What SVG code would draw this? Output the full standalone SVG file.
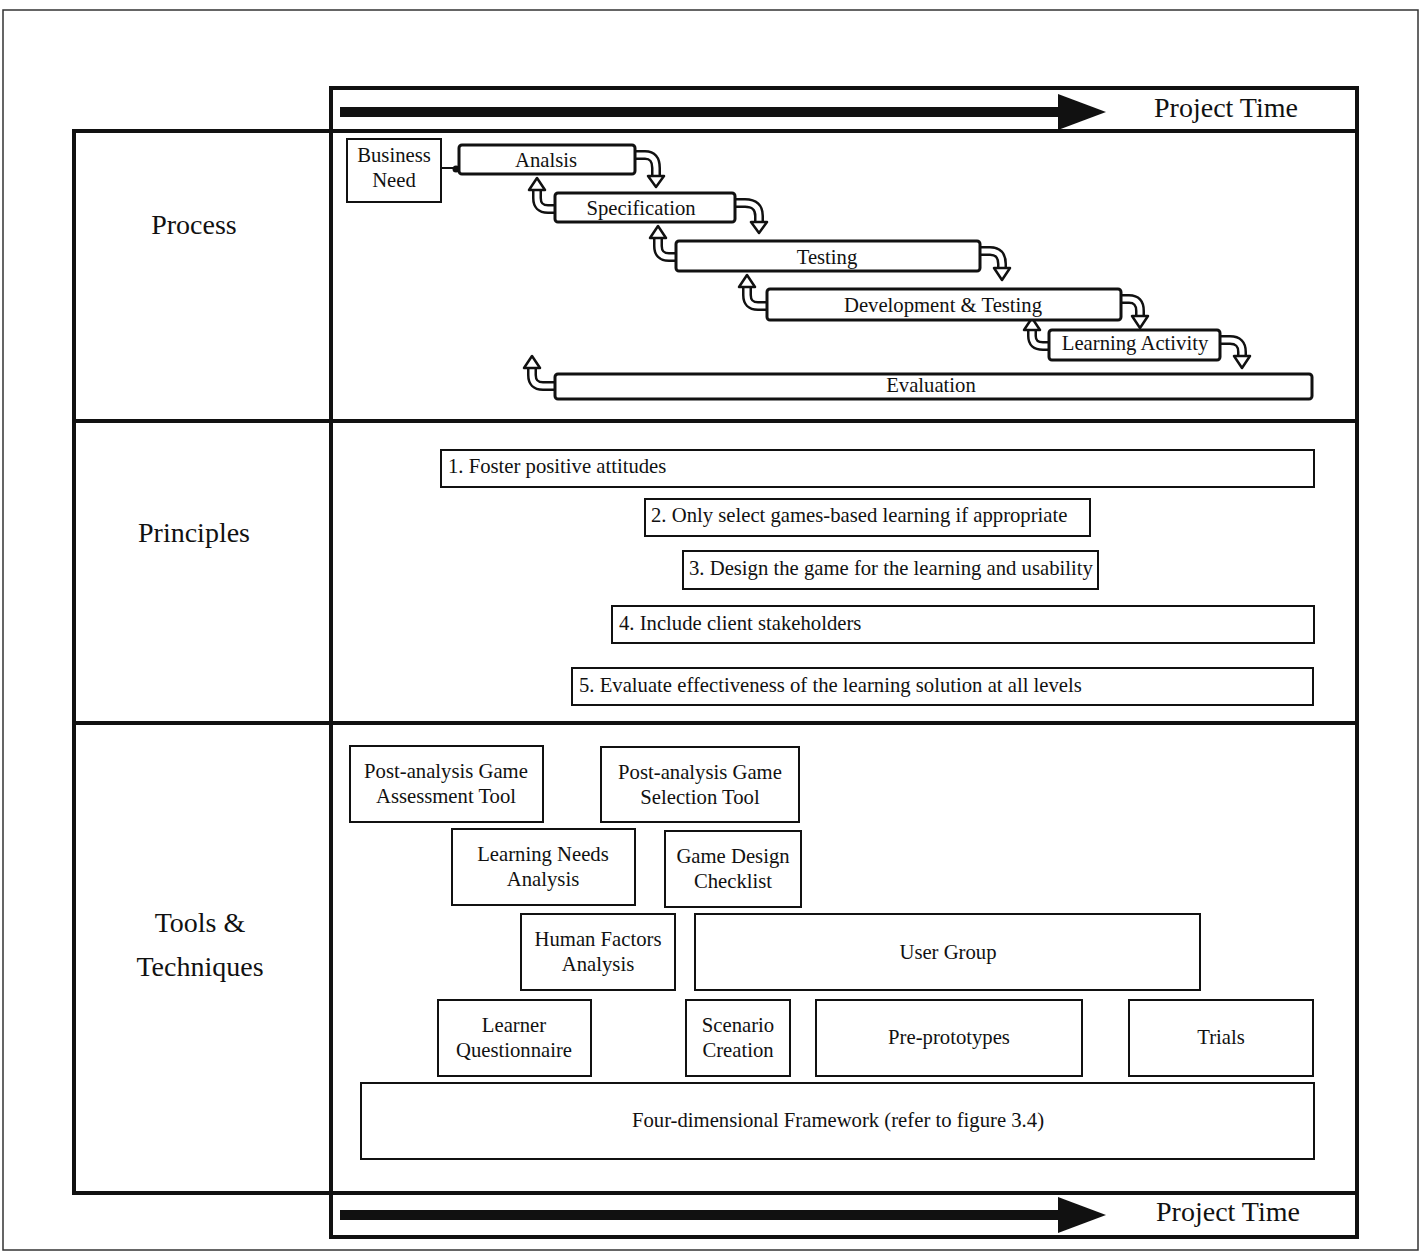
<svg xmlns="http://www.w3.org/2000/svg" width="1428" height="1253" viewBox="0 0 1428 1253">
<style>
text{font-family:"Liberation Serif",serif;fill:#111}
.t{font-size:20.7px}
.L{font-size:28px}
.PT{font-size:28px}
.b{fill:#fff;stroke:#111;stroke-width:2}
.pb{fill:#fff;stroke:#111;stroke-width:3}
.fr{fill:none;stroke:#111;stroke-width:4}
.ao{fill:none;stroke:#111;stroke-width:10;stroke-linejoin:round}
.ai{fill:none;stroke:#fff;stroke-width:5;stroke-linejoin:round}
.ah{fill:#fff;stroke:#111;stroke-width:2.5;stroke-linejoin:round}
</style>
<rect x="3" y="10" width="1415" height="1240" fill="#fff" stroke="#333" stroke-width="1.5"/>
<g id="frame">
<rect class="fr" x="331" y="88" width="1026" height="43"/>
<rect class="fr" x="74" y="131" width="1283" height="290"/>
<rect class="fr" x="74" y="421" width="1283" height="302"/>
<rect class="fr" x="74" y="723" width="1283" height="470"/>
<line class="fr" x1="331" y1="131" x2="331" y2="1193"/>
<rect class="fr" x="331" y="1193" width="1026" height="44"/>
<text class="L" x="194" y="234" text-anchor="middle">Process</text>
<text class="L" x="194" y="542" text-anchor="middle">Principles</text>
<text class="L" x="200" y="932" text-anchor="middle">Tools &amp;</text>
<text class="L" x="200" y="976" text-anchor="middle">Techniques</text>
</g>
<g id="time-top">
<line x1="340" y1="112" x2="1065" y2="112" stroke="#111" stroke-width="10"/>
<polygon points="1058,94 1106,112 1058,130" fill="#111"/>
<text class="PT" x="1226" y="117" text-anchor="middle">Project Time</text>
</g>
<g id="time-bottom">
<line x1="340" y1="1215" x2="1065" y2="1215" stroke="#111" stroke-width="10"/>
<polygon points="1058,1197 1106,1215 1058,1233" fill="#111"/>
<text class="PT" x="1228" y="1221" text-anchor="middle">Project Time</text>
</g>
<g id="connectors">
<line x1="441" y1="168" x2="459" y2="168" stroke="#111" stroke-width="2"/>
<circle cx="456" cy="169" r="3.5" fill="#111"/>
<path class="ao" d="M633,155 H645 Q656,155 656,168 V178"/><path class="ai" d="M633,155 H645 Q656,155 656,168 V178"/>
<polygon class="ah" points="648,176 664,176 656,187"/>
<path class="ao" d="M733,203 H745 Q759,203 759,216 V224"/><path class="ai" d="M733,203 H745 Q759,203 759,216 V224"/>
<polygon class="ah" points="751,222 767,222 759,233"/>
<path class="ao" d="M978,251 H990 Q1002,251 1002,264 V270"/><path class="ai" d="M978,251 H990 Q1002,251 1002,264 V270"/>
<polygon class="ah" points="994,268 1010,268 1002,280"/>
<path class="ao" d="M1119,299 H1129 Q1140,299 1140,311 V318"/><path class="ai" d="M1119,299 H1129 Q1140,299 1140,311 V318"/>
<polygon class="ah" points="1132,316 1148,316 1140,328"/>
<path class="ao" d="M1218,340 H1230 Q1242,340 1242,352 V358"/><path class="ai" d="M1218,340 H1230 Q1242,340 1242,352 V358"/>
<polygon class="ah" points="1234,356 1250,356 1242,368"/>
<path class="ao" d="M557,209 H548 Q537,209 537,198 V188"/><path class="ai" d="M557,209 H548 Q537,209 537,198 V188"/>
<polygon class="ah" points="529,190 545,190 537,178"/>
<path class="ao" d="M678,257 H669 Q658,257 658,246 V236"/><path class="ai" d="M678,257 H669 Q658,257 658,246 V236"/>
<polygon class="ah" points="650,238 666,238 658,226"/>
<path class="ao" d="M769,306 H758 Q747,306 747,295 V285"/><path class="ai" d="M769,306 H758 Q747,306 747,295 V285"/>
<polygon class="ah" points="739,287 755,287 747,275"/>
<path class="ao" d="M1051,346 H1043 Q1032,346 1032,336 V328"/><path class="ai" d="M1051,346 H1043 Q1032,346 1032,336 V328"/>
<polygon class="ah" points="1024,330 1040,330 1032,318"/>
<path class="ao" d="M557,386 H543 Q532,386 532,375 V366"/><path class="ai" d="M557,386 H543 Q532,386 532,375 V366"/>
<polygon class="ah" points="524,368 540,368 532,356"/>
</g>
<g id="business-need"><rect class="b" x="347" y="139" width="94" height="63"/><text class="t" x="394" y="162" text-anchor="middle">Business</text><text class="t" x="394" y="187" text-anchor="middle">Need</text></g>
<g id="analsis"><rect class="pb" x="459" y="145" width="176" height="29" rx="3"/><text class="t" x="546" y="167" text-anchor="middle">Analsis</text></g>
<g id="specification"><rect class="pb" x="555" y="193" width="180" height="29" rx="3"/><text class="t" x="641" y="215" text-anchor="middle">Specification</text></g>
<g id="testing"><rect class="pb" x="676" y="241" width="304" height="30" rx="3"/><text class="t" x="827" y="264" text-anchor="middle">Testing</text></g>
<g id="dev-testing"><rect class="pb" x="767" y="289" width="354" height="31" rx="3"/><text class="t" x="943" y="312" text-anchor="middle">Development &amp; Testing</text></g>
<g id="learning-activity"><rect class="pb" x="1049" y="330" width="171" height="30" rx="3"/><text class="t" x="1135" y="350" text-anchor="middle">Learning Activity</text></g>
<g id="evaluation"><rect class="pb" x="555" y="374" width="757" height="25" rx="3"/><text class="t" x="931" y="392" text-anchor="middle">Evaluation</text></g>
<g id="p1"><rect class="b" x="441" y="450" width="873" height="37"/><text class="t" x="448" y="473">1. Foster positive attitudes</text></g>
<g id="p2"><rect class="b" x="645" y="499" width="445" height="37"/><text class="t" x="651" y="522">2. Only select games-based learning if appropriate</text></g>
<g id="p3"><rect class="b" x="683" y="551" width="415" height="38"/><text class="t" x="689" y="575">3. Design the game for the learning and usability</text></g>
<g id="p4"><rect class="b" x="612" y="606" width="702" height="37"/><text class="t" x="619" y="630">4. Include client stakeholders</text></g>
<g id="p5"><rect class="b" x="572" y="668" width="741" height="37"/><text class="t" x="579" y="692">5. Evaluate effectiveness of the learning solution at all levels</text></g>
<g id="t1"><rect class="b" x="350" y="746" width="193" height="76"/><text class="t" x="446" y="778" text-anchor="middle">Post-analysis Game</text><text class="t" x="446" y="803" text-anchor="middle">Assessment Tool</text></g>
<g id="t2"><rect class="b" x="601" y="747" width="198" height="75"/><text class="t" x="700" y="779" text-anchor="middle">Post-analysis Game</text><text class="t" x="700" y="804" text-anchor="middle">Selection Tool</text></g>
<g id="t3"><rect class="b" x="452" y="829" width="183" height="76"/><text class="t" x="543" y="861" text-anchor="middle">Learning Needs</text><text class="t" x="543" y="886" text-anchor="middle">Analysis</text></g>
<g id="t4"><rect class="b" x="665" y="831" width="136" height="76"/><text class="t" x="733" y="863" text-anchor="middle">Game Design</text><text class="t" x="733" y="888" text-anchor="middle">Checklist</text></g>
<g id="t5"><rect class="b" x="521" y="914" width="154" height="76"/><text class="t" x="598" y="946" text-anchor="middle">Human Factors</text><text class="t" x="598" y="971" text-anchor="middle">Analysis</text></g>
<g id="t6"><rect class="b" x="695" y="914" width="505" height="76"/><text class="t" x="948" y="959" text-anchor="middle">User Group</text></g>
<g id="t7"><rect class="b" x="438" y="1000" width="153" height="76"/><text class="t" x="514" y="1032" text-anchor="middle">Learner</text><text class="t" x="514" y="1057" text-anchor="middle">Questionnaire</text></g>
<g id="t8"><rect class="b" x="686" y="1000" width="104" height="76"/><text class="t" x="738" y="1032" text-anchor="middle">Scenario</text><text class="t" x="738" y="1057" text-anchor="middle">Creation</text></g>
<g id="t9"><rect class="b" x="816" y="1000" width="266" height="76"/><text class="t" x="949" y="1044" text-anchor="middle">Pre-prototypes</text></g>
<g id="t10"><rect class="b" x="1129" y="1000" width="184" height="76"/><text class="t" x="1221" y="1044" text-anchor="middle">Trials</text></g>
<g id="t11"><rect class="b" x="361" y="1083" width="953" height="76"/><text class="t" x="838" y="1127" text-anchor="middle">Four-dimensional Framework (refer to figure 3.4)</text></g>
</svg>
